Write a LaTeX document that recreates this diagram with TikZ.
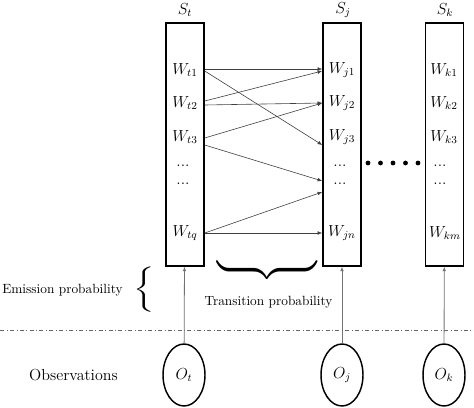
\documentclass[tikz,border=0pt]{standalone}
\usetikzlibrary{arrows.meta,calc,shapes.geometric}
\begin{document}
\begin{tikzpicture}[x=0.75pt,y=-0.75pt,
  statebox/.style={draw,line width=1.1pt,minimum width=28.5pt,minimum height=182pt,inner sep=0pt},
  wlab/.style={font=\large,inner sep=0pt},
  obs/.style={ellipse,draw,line width=1.1pt,minimum width=31.5pt,minimum height=46.5pt,inner sep=0pt,font=\large},
  trans/.style={draw=black!75,line width=0.45pt,-{Latex[length=3.5pt,width=2.8pt]}},
  emit/.style={draw=black!55,line width=0.6pt,-{Latex[length=3.5pt,width=2.8pt]}},
  sep/.style={draw=black!60,dash dot,line width=0.5pt},
  dotmark/.style={circle,fill,inner sep=0pt,minimum size=3.6pt}]
\useasboundingbox (0,0) rectangle (474,407);
% state boxes
\node[statebox] (St) at (185,144.5) {};
\node[statebox] (Sj) at (342,144.5) {};
\node[statebox] (Sk) at (444.5,144.5) {};
\node[font=\large] (tSt) at (185,10) {$S_t$};
\node[font=\large] (tSj) at (343,10) {$S_j$};
\node[font=\large] (tSk) at (445,10) {$S_k$};
% labels St
\node[wlab] (t1) at (185,70) {$W_{t1}$};
\node[wlab] (t2) at (185,103) {$W_{t2}$};
\node[wlab] (t3) at (185,137) {$W_{t3}$};
\node[wlab] (td1) at (183,166) {...};
\node[wlab] (td2) at (183,184) {...};
\node[wlab] (tq) at (185,233) {$W_{tq}$};
% labels Sj
\node[wlab] (j1) at (342,70) {$W_{j1}$};
\node[wlab] (j2) at (342,103) {$W_{j2}$};
\node[wlab] (j3) at (342,137) {$W_{j3}$};
\node[wlab] (jd1) at (340,166) {...};
\node[wlab] (jd2) at (340,184) {...};
\node[wlab] (jn) at (342,233) {$W_{jn}$};
% labels Sk
\node[wlab] (k1) at (444,70) {$W_{k1}$};
\node[wlab] (k2) at (444,103) {$W_{k2}$};
\node[wlab] (k3) at (444,137) {$W_{k3}$};
\node[wlab] (kd1) at (440,166) {...};
\node[wlab] (kd2) at (440,184) {...};
\node[wlab] (km) at (445,233) {$W_{km}$};
% edge anchor coordinates
\coordinate (a1) at (St.east |- 0,69);
\coordinate (a1b) at (St.east |- 0,71);
\coordinate (a2) at (St.east |- 0,101);
\coordinate (a2b) at (St.east |- 0,105);
\coordinate (a3) at (St.east |- 0,138);
\coordinate (a3b) at (St.east |- 0,145);
\coordinate (aq) at (St.east |- 0,233);
\coordinate (b1) at (Sj.west |- 0,69);
\coordinate (b1b) at (Sj.west |- 0,71);
\coordinate (b2) at (Sj.west |- 0,103);
\coordinate (b3) at (Sj.west |- 0,145);
\coordinate (bd) at (Sj.west |- 0,181);
\coordinate (bd2) at (Sj.west |- 0,192);
\coordinate (bn) at (Sj.west |- 0,233);
% transitions
\draw[trans] (a1) -- (b1);
\draw[trans] (a1b) -- (b3);
\draw[trans] (a2) -- (b1b);
\draw[trans] (a2b) -- (b2);
\draw[trans] (a3) -- (b2);
\draw[trans] (a3b) -- (bd);
\draw[trans] (aq) -- (bd2);
\draw[trans] (aq) -- (bn);
% dots between Sj and Sk
\foreach \i/\x in {1/368,2/380.5,3/393,4/405.5,5/418}
  \node[dotmark] (dot\i) at (\x,163) {};
% braces
\node[inner sep=0pt,rotate=-90] (tbrace) at (267.5,270)
  {\resizebox*{22pt}{76pt}{$\Bigg\}$}};
\node (ttrans) at (268.5,302) {Transition probability};
\node[inner sep=0pt] (ebrace) at (144,290) {\resizebox*{16pt}{34pt}{$\Bigg\{$}};
\node (temit) at (62.5,290) {Emission probability};
% separator
\coordinate (sepL) at (0,330);
\coordinate (sepR) at (474,330);
\draw[sep] (sepL) -- (sepR);
% observations
\node[font=\large] (tobs) at (73.5,375) {Observations};
\node[obs] (Ot) at (184,375) {$O_t$};
\node[obs] (Oj) at (342,375) {$O_j$};
\node[obs] (Ok) at (444,375) {$O_k$};
\draw[emit] (Ot) -- (St);
\draw[emit] (Oj) -- (Sj);
\draw[emit] (Ok) -- (Sk);
\end{tikzpicture}
\end{document}
